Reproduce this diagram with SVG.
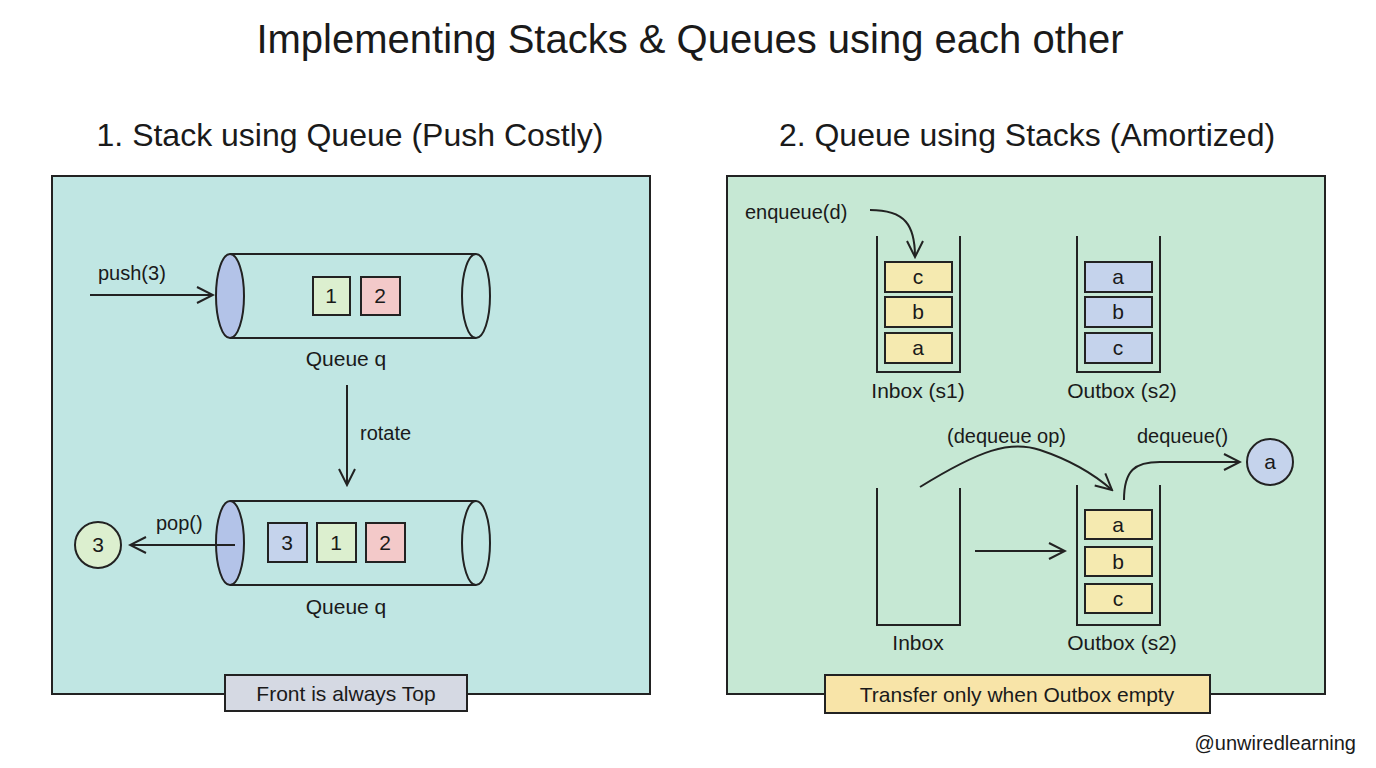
<svg xmlns="http://www.w3.org/2000/svg" width="1376" height="768" viewBox="0 0 1376 768">
<defs>
<marker id="ah" viewBox="0 0 20 20" refX="18" refY="10" markerWidth="20" markerHeight="20" markerUnits="userSpaceOnUse" orient="auto"><path d="M2,2 L18,10 L2,18" fill="none" stroke="#222" stroke-width="2"/></marker>
</defs>
<style>
text{font-family:"Liberation Sans",Arial,sans-serif;fill:#1a1a1a}
.t{font-size:40px;text-anchor:middle}
.h{font-size:32px;text-anchor:middle}
.l{font-size:21px;text-anchor:middle}
.s{font-size:20px}
.c{font-size:21px;text-anchor:middle}
.ln{fill:none;stroke:#222;stroke-width:2}
.bx{stroke:#222;stroke-width:2}
.y{fill:#f5eab0}.bl{fill:#c5d3ec}.g{fill:#dcefcf}.r{fill:#f3c9c9}
.con{fill:none;stroke:#222;stroke-width:2;marker-end:url(#ah)}
</style>
<rect width="1376" height="768" fill="#fff"/>
<text class="t" x="690" y="53">Implementing Stacks &amp; Queues using each other</text>
<text class="h" x="350" y="146">1. Stack using Queue (Push Costly)</text>
<text class="h" x="1027" y="146">2. Queue using Stacks (Amortized)</text>
<rect x="52" y="176" width="598" height="518" fill="#c0e6e3" stroke="#222" stroke-width="2"/>
<rect x="727" y="176" width="598" height="518" fill="#c6e8d4" stroke="#222" stroke-width="2"/>
<g id="queue1">
<path class="ln" d="M230,254 H476 M230,338 H476"/>
<ellipse cx="476" cy="296" rx="14" ry="42" fill="none" stroke="#222" stroke-width="2"/>
<ellipse cx="230" cy="296" rx="14" ry="42" fill="#b3c3e8" stroke="#222" stroke-width="2"/>
<rect class="bx g" x="313" y="277" width="37" height="38"/><text class="c" x="331" y="303">1</text>
<rect class="bx r" x="361" y="277" width="39" height="38"/><text class="c" x="380" y="303">2</text>
<text class="l" x="346" y="366">Queue q</text>
</g>
<g id="queue2">
<path class="ln" d="M230,501 H476 M230,585 H476"/>
<ellipse cx="476" cy="543" rx="14" ry="42" fill="none" stroke="#222" stroke-width="2"/>
<ellipse cx="230" cy="543" rx="14" ry="42" fill="#b3c3e8" stroke="#222" stroke-width="2"/>
<rect class="bx bl" x="268" y="523" width="39" height="39"/><text class="c" x="287" y="550">3</text>
<rect class="bx g" x="317" y="523" width="39" height="39"/><text class="c" x="336" y="550">1</text>
<rect class="bx r" x="366" y="523" width="39" height="39"/><text class="c" x="385" y="550">2</text>
<text class="l" x="346" y="614">Queue q</text>
</g>
<g id="out3"><circle cx="98" cy="545" r="23" fill="#dcefcf" stroke="#222" stroke-width="2"/><text class="c" x="98" y="552">3</text></g>
<g id="badge1"><rect x="225" y="675" width="242" height="36" fill="#d5d9e3" stroke="#222" stroke-width="2"/><text class="l" x="346" y="701">Front is always Top</text></g>
<g id="inbox1">
<path class="ln" d="M877,236 V372 H960 V236"/>
<rect class="bx y" x="885" y="262" width="67" height="30"/><text class="c" x="918" y="284">c</text>
<rect class="bx y" x="885" y="297" width="67" height="30"/><text class="c" x="918" y="319">b</text>
<rect class="bx y" x="885" y="333" width="67" height="30"/><text class="c" x="918" y="355">a</text>
<text class="l" x="918" y="398">Inbox (s1)</text>
</g>
<g id="outbox1">
<path class="ln" d="M1077,236 V372 H1160 V236"/>
<rect class="bx bl" x="1085" y="262" width="67" height="30"/><text class="c" x="1118" y="284">a</text>
<rect class="bx bl" x="1085" y="297" width="67" height="30"/><text class="c" x="1118" y="319">b</text>
<rect class="bx bl" x="1085" y="333" width="67" height="30"/><text class="c" x="1118" y="355">c</text>
<text class="l" x="1122" y="398">Outbox (s2)</text>
</g>
<g id="inbox2">
<path class="ln" d="M877,488 V625 H960 V488"/>
<text class="l" x="918" y="650">Inbox</text>
</g>
<g id="outbox2">
<path class="ln" d="M1077,485 V625 H1160 V485"/>
<rect class="bx y" x="1085" y="510" width="67" height="29"/><text class="c" x="1118" y="532">a</text>
<rect class="bx y" x="1085" y="547" width="67" height="29"/><text class="c" x="1118" y="569">b</text>
<rect class="bx y" x="1085" y="584" width="67" height="29"/><text class="c" x="1118" y="606">c</text>
<text class="l" x="1122" y="650">Outbox (s2)</text>
</g>
<g id="outa"><circle cx="1270" cy="462" r="23" fill="#c5d3ec" stroke="#222" stroke-width="2"/><text class="c" x="1270" y="469">a</text></g>
<g id="badge2"><rect x="825" y="675" width="385" height="38" fill="#f8e4a8" stroke="#222" stroke-width="2"/><text class="l" x="1017" y="702">Transfer only when Outbox empty</text></g>
<g id="connectors">
<path class="con" d="M90,295 H213"/>
<text class="s" x="98" y="280">push(3)</text>
<path class="con" d="M347,385 V485"/>
<text class="s" x="360" y="440">rotate</text>
<path class="con" d="M235,545 H130"/>
<text class="s" x="156" y="530">pop()</text>
<path class="con" d="M870,210 C905,210 915,225 915,257"/>
<text class="s" x="745" y="219">enqueue(d)</text>
<path class="con" d="M920,487 C980,450 1010,440 1040,450 C1070,460 1095,475 1112,490"/>
<text class="s" x="947" y="443">(dequeue op)</text>
<path class="con" d="M975,551 H1065"/>
<path class="con" d="M1124,500 C1124,470 1135,462 1160,462 H1240"/>
<text class="s" x="1137" y="443">dequeue()</text>
</g>
<text x="1356" y="750" style="font-size:20px;text-anchor:end">@unwiredlearning</text>
</svg>
